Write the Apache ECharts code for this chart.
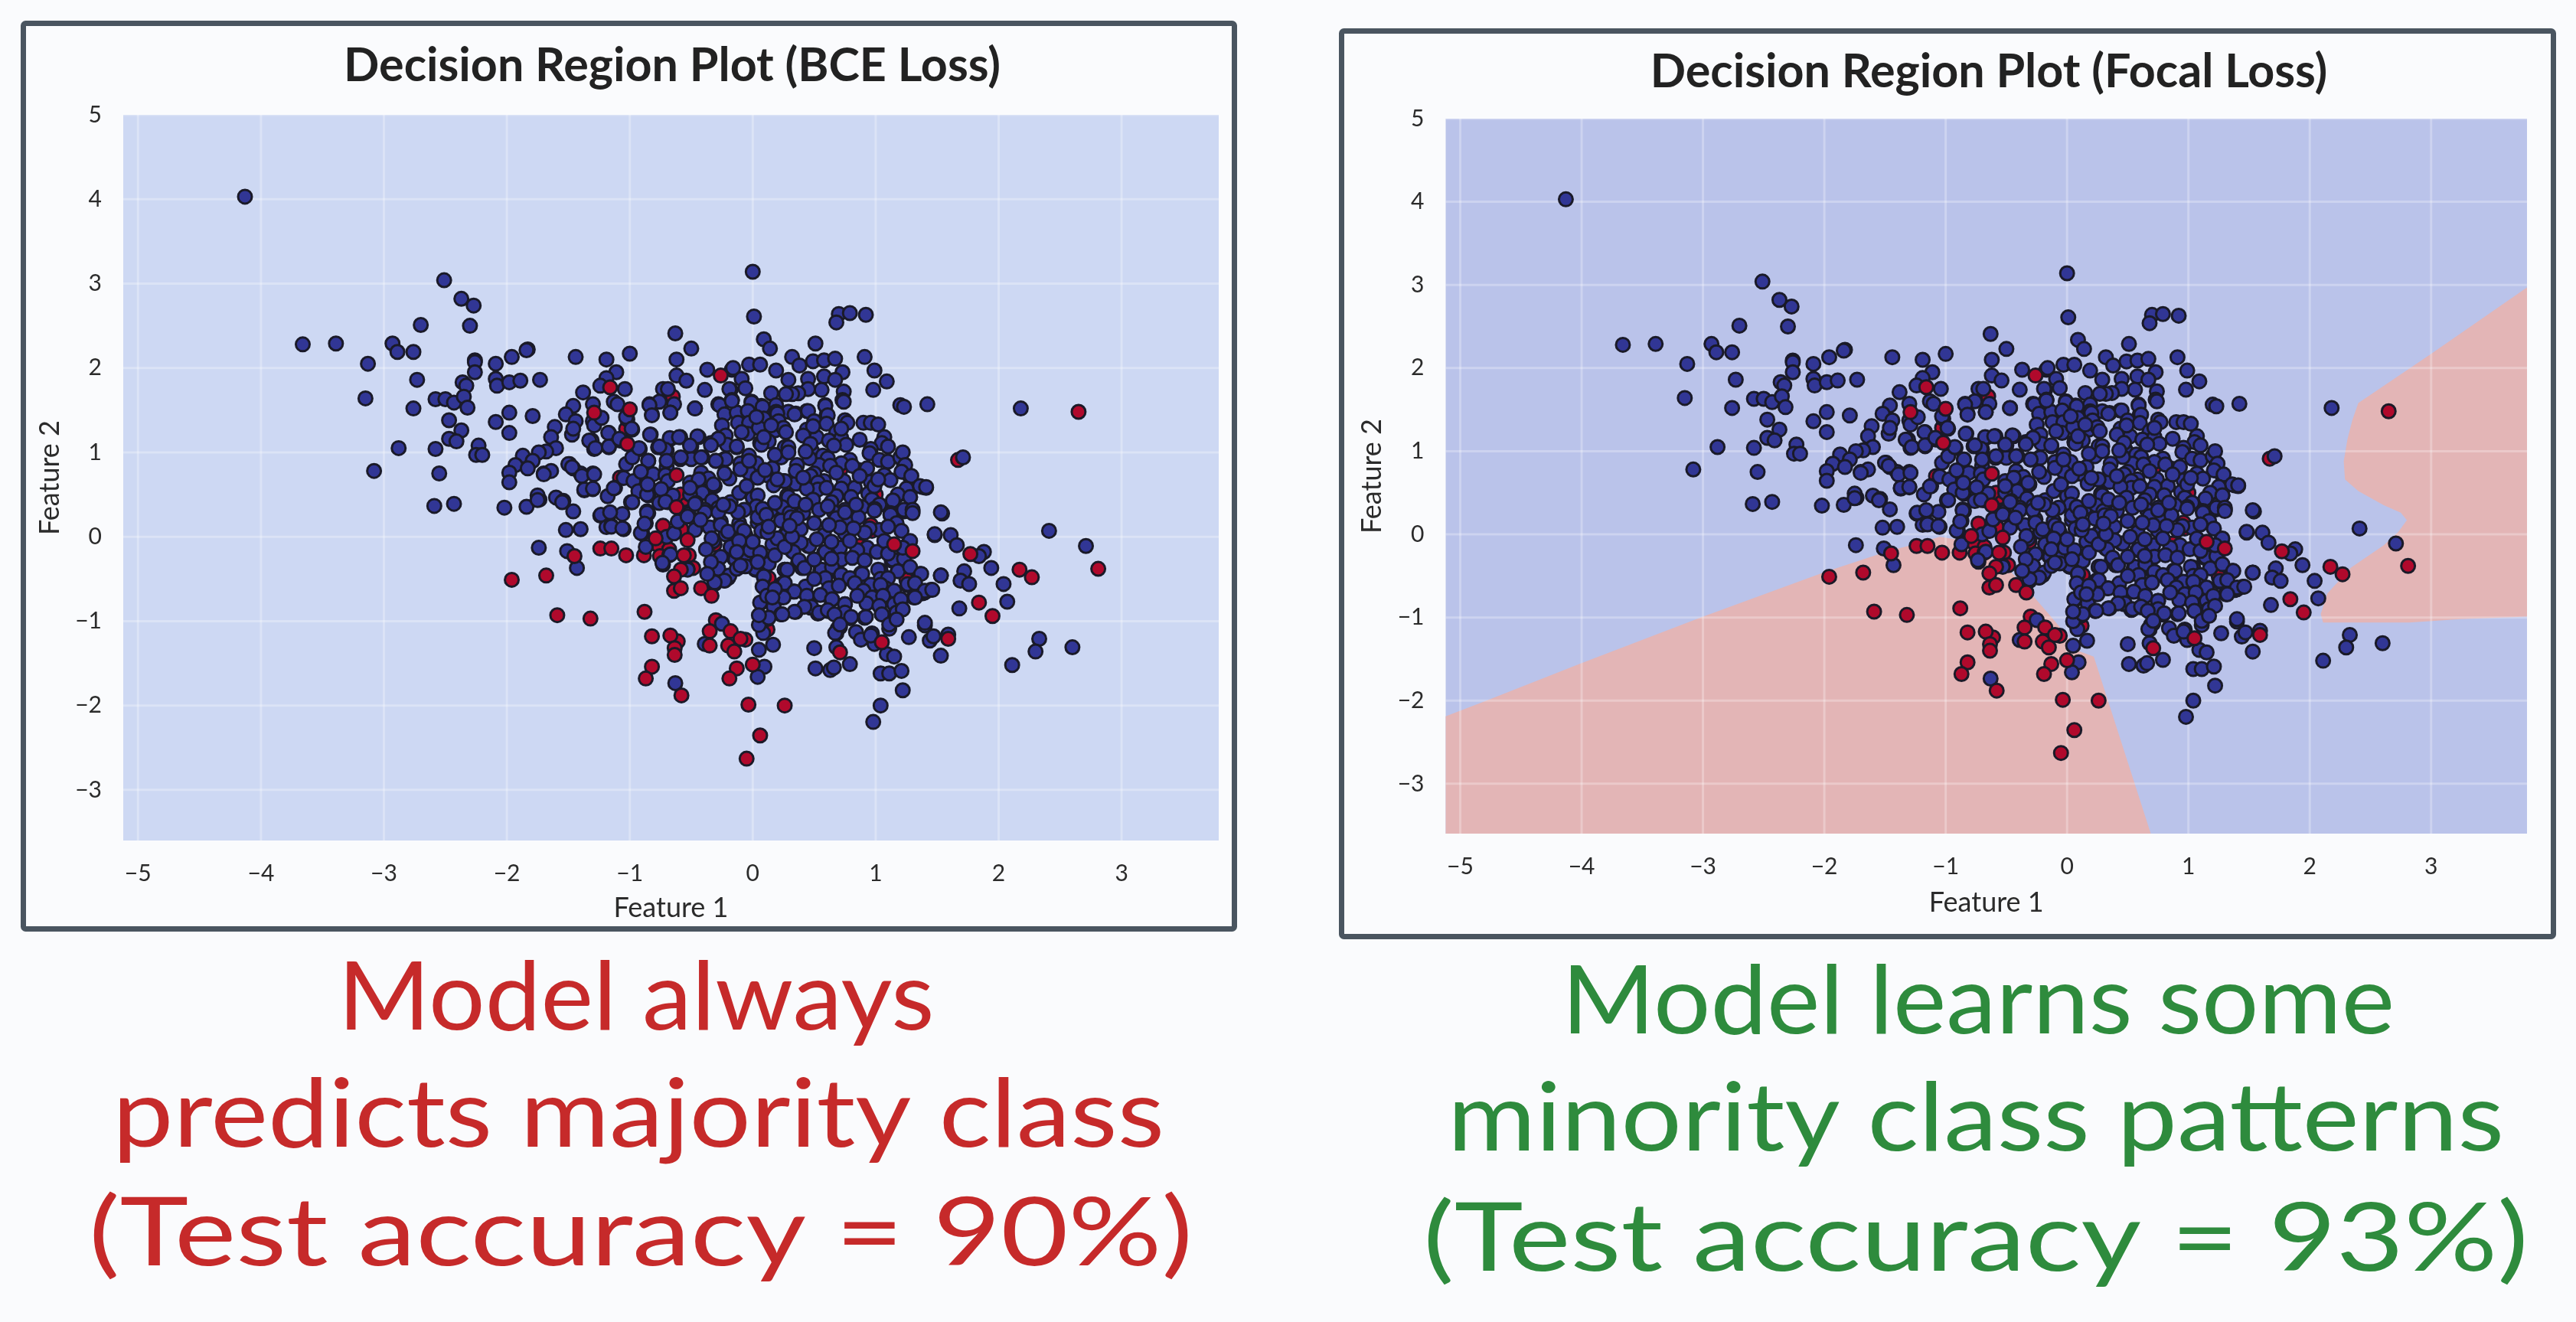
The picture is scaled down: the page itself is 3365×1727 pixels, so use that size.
<!DOCTYPE html>
<html>
<head>
<meta charset="utf-8">
<title>Decision regions: BCE vs Focal loss</title>
<script src="https://cdn.jsdelivr.net/npm/echarts@6/dist/echarts.min.js"></script>
<style>
html,body{margin:0;padding:0;background:#fafbfd;}
#chart{width:3365px;height:1727px;}
</style>
</head>
<body>
<div id="chart"></div>
<script>
// Axis bounds shared by both panels (data units)
const xBounds = [-5.12, 3.79];
const yBounds = [-3.6, 5];
const xTicks = [-5, -4, -3, -2, -1, 0, 1, 2, 3];
const yTicks = [-3, -2, -1, 0, 1, 2, 3, 4, 5];

// Panel headings, axis names and captions
const panelTitles = ['Decision Region Plot (BCE Loss)', 'Decision Region Plot (Focal Loss)'];
const xAxisName = 'Feature 1';
const yAxisName = 'Feature 2';
const bceCaption = ['Model always', 'predicts majority class', '(Test accuracy = 90%)'];
const focalCaption = ['Model learns some', 'minority class patterns', '(Test accuracy = 93%)'];

// Focal-loss decision boundary: regions predicted as the minority class
const focalLowerRegion = [[-5.12,-2.19],[-4.80,-2.01],[-4.0,-1.55],[-3.02,-1.0],[-2.0,-0.456],[-1.47,-0.20],[-1.23,-0.11],[-1.05,-0.03],[-0.87,-0.07],[-0.65,-0.255],[-0.46,-0.456],[-0.31,-0.69],[-0.145,-0.97],[0,-1.22],[0.07,-1.39],[0.22,-1.47],[0.69,-3.6],[-5.12,-3.6]];
const focalRightRegion = [[3.79,2.97],[3.0,2.17],[2.40,1.58],[2.35,1.37],[2.31,1.14],[2.28,0.88],[2.29,0.66],[2.40,0.52],[2.61,0.35],[2.75,0.26],[2.80,0.17],[2.73,0.03],[2.61,-0.13],[2.34,-0.40],[2.145,-0.71],[2.09,-0.96],[2.11,-1.06],[2.82,-1.06],[3.24,-1.02],[3.79,-0.99]];

// Minority class points lying under the majority points
const minorityUnder = [[-1.03,1.28],[-0.65,1.66],[1.67,0.91],[0.72,0.81],[1.0,0.50],[0.96,0.14],[0.97,0.07],[0.87,-0.11],[1.25,-0.51],[1.38,-0.67],[0.13,-0.49],[-0.77,-0.10],[-0.31,-0.09],[-0.68,-0.15],[-0.52,-0.22],[-0.64,-0.64],[-0.885,-0.22],[-0.755,-0.23],[-0.73,0.13],[-0.58,0.09],[-0.585,0.50],[-0.54,0.38],[-0.61,-1.24],[-0.06,-1.22],[0.12,-1.10],[-0.30,-0.99],[-0.485,-0.37],[-1.08,0.70]];

// Minority class points lying over the majority points
const minorityOver = [[-1.16,1.77],[-1.29,1.47],[-1.00,1.51],[-1.02,1.10],[-0.26,1.91],[-0.62,0.73],[-0.62,0.35],[2.65,1.48],[2.81,-0.38],[2.17,-0.39],[2.27,-0.48],[1.84,-0.78],[1.95,-0.94],[1.15,-0.09],[1.30,-0.17],[1.77,-0.205],[1.59,-1.21],[1.05,-1.25],[0.71,-1.37],[-1.96,-0.51],[-1.68,-0.46],[-1.59,-0.93],[-1.32,-0.97],[-0.88,-0.89],[-0.82,-1.18],[-0.67,-1.17],[-0.635,-1.32],[-0.635,-1.40],[-0.82,-1.54],[-0.87,-1.68],[-0.58,-1.88],[-0.35,-1.12],[-0.35,-1.29],[-0.18,-1.12],[-0.10,-1.21],[-0.20,-1.29],[-0.15,-1.36],[0,-1.515],[-0.13,-1.56],[-0.19,-1.68],[-0.035,-1.99],[0.26,-2.0],[0.06,-2.355],[-0.05,-2.63],[-1.24,-0.14],[-1.15,-0.14],[-1.03,-0.22],[-1.45,-0.23],[-0.79,-0.02],[-0.53,-0.04],[-0.56,-0.22],[-0.585,-0.39],[-0.64,-0.47],[-0.585,-0.61],[-0.42,-0.61],[-0.335,-0.70]];

// Majority class: sparse points on the upper left
const majorityUpperLeft = [[-4.13,4.03],[-3.66,2.28],[-3.39,2.29],[-2.93,2.29],[-2.89,2.19],[-2.76,2.19],[-3.13,2.05],[-3.15,1.64],[-2.73,1.86],[-2.76,1.52],[-2.70,2.51],[-2.51,3.04],[-2.37,2.82],[-2.27,2.74],[-2.30,2.50],[-2.26,2.09],[-2.26,2.07],[-2.26,1.95],[-2.36,1.83],[-2.33,1.79],[-2.58,1.63],[-2.50,1.63],[-2.43,1.59],[-2.35,1.66],[-2.32,1.53],[-2.09,2.05],[-1.96,2.13],[-1.83,2.22],[-1.84,2.21],[-2.09,1.87],[-2.08,1.79],[-1.98,1.83],[-1.89,1.85],[-1.73,1.86],[-1.44,2.13],[-1.19,2.10],[-1.00,2.17],[-1.11,1.95],[-1.19,1.88],[-1.24,1.79],[-1.04,1.75],[-1.38,1.71],[-1.46,1.55],[-1.52,1.45],[-1.30,1.57],[-1.13,1.60],[-1.10,1.57],[-1.98,1.47],[-2.09,1.36],[-1.79,1.43],[-1.98,1.23],[-2.47,1.38],[-2.37,1.26],[-2.47,1.16],[-2.41,1.13],[-2.23,1.08],[-2.25,0.97],[-2.20,0.97],[-2.88,1.05],[-2.58,1.04],[-3.08,0.78],[-2.55,0.75],[-1.61,1.30],[-1.64,1.18],[-1.60,1.05],[-1.68,1.01],[-1.74,1.00],[-1.87,0.96],[-1.79,0.90],[-1.93,0.85],[-1.83,0.81],[-1.98,0.76],[-1.70,0.75],[-1.64,0.78],[-1.49,0.86],[-1.46,0.81],[-1.40,0.75],[-1.30,0.75],[-1.44,1.37],[-1.47,1.21],[-1.46,1.28],[-1.30,1.37],[-1.29,1.32],[-1.23,1.41],[-1.31,1.14],[-1.29,1.04],[-1.17,1.23],[-1.17,1.06],[-1.08,1.14],[-0.98,1.27],[-1.02,1.39],[-0.92,1.04],[-1.33,1.14],[-1.28,1.05],[-1.03,0.86],[-1.50,0.86],[-1.47,0.825],[-1.39,0.72],[-1.29,0.74],[-1.70,0.74],[-1.37,0.55],[-1.30,0.565],[-1.12,0.58],[-1.18,0.48],[-1.60,0.465],[-1.54,0.425],[-1.46,0.30],[-1.735,0.44],[-1.05,0.695],[-2.59,0.365],[-2.43,0.39],[-2.02,0.345],[-1.84,0.355],[-1.75,0.49],[-1.75,0.435],[-1.55,0.41],[-1.52,0.08],[-1.40,0.09],[-1.74,-0.13],[-1.51,-0.17],[-1.43,-0.37],[-1.24,0.25],[-1.16,0.28],[-1.06,0.27],[-1.19,0.115],[-1.15,0.13],[-1.05,0.09],[-1.37,0.56],[-1.30,0.57],[-1.13,0.575],[-0.99,0.41],[-1.98,0.645]];

// Majority class: top and right fringe of the cloud
const majorityUpperRight = [[-0.63,2.41],[-0.50,2.23],[-0.62,2.10],[-0.62,1.91],[-0.54,1.85],[-0.37,1.98],[-0.17,1.98],[-0.09,1.87],[-0.06,1.76],[-0.18,1.74],[-0.39,1.74],[-0.73,1.75],[-0.69,1.75],[-0.64,1.57],[-0.67,1.47],[-0.84,1.57],[-0.76,1.60],[-0.82,1.45],[-0.47,1.52],[-0.27,1.56],[-0.17,1.62],[-0.13,1.47],[-0.01,1.60],[0,3.14],[0.01,2.61],[0.70,2.64],[0.79,2.65],[0.92,2.63],[0.68,2.54],[0.09,2.34],[0.14,2.23],[0.51,2.29],[0.32,2.13],[0.38,2.03],[0.49,2.08],[0.58,2.09],[0.67,2.11],[0.91,2.13],[0.19,1.97],[-0.03,2.04],[0.06,2.04],[-0.16,2.0],[-0.19,1.75],[-0.17,1.62],[0.99,1.97],[0.73,1.95],[1.09,1.84],[0.98,1.74],[0.29,1.86],[0.45,1.87],[0.58,1.90],[0.67,1.86],[0.74,1.72],[0.73,1.62],[0.56,1.74],[0.45,1.75],[0.37,1.70],[0.32,1.69],[0.27,1.69],[0.15,1.70],[-0.28,1.57],[0.07,1.55],[0.19,1.56],[0.19,1.48],[0.29,1.48],[0.35,1.46],[0.44,1.49],[0.59,1.56],[0.60,1.44],[1.20,1.56],[1.23,1.54],[1.42,1.57],[2.18,1.52],[1.71,0.94],[1.23,0.86],[1.23,0.77],[1.28,0.71],[1.38,0.59],[1.41,0.58],[1.18,0.49],[1.26,0.58],[1.28,0.47],[1.23,0.30],[1.30,0.30],[1.12,0.26],[1.54,0.275],[1.48,0.02],[1.61,0.02],[1.66,-0.10],[1.88,-0.18],[1.84,-0.23],[2.41,0.07],[2.71,-0.11],[1.94,-0.37],[2.04,-0.56],[2.07,-0.77],[1.68,-0.85],[1.72,-0.41],[1.69,-0.52],[1.76,-0.56],[1.53,-0.46],[1.36,-0.44],[1.27,-0.07],[1.40,-0.66],[1.45,-0.63],[1.31,-0.72],[1.40,-1.05],[1.27,-1.19],[1.44,-1.23],[1.47,-1.18],[1.59,-1.16],[1.53,-1.41],[2.33,-1.21],[2.30,-1.36],[2.11,-1.52],[2.60,-1.31]];

// Majority class: bottom of the cloud
const majorityLower = [[1.11,-1.09],[0.97,-1.145],[0.84,-1.13],[0.88,-1.22],[0.99,-1.27],[1.09,-1.39],[1.15,-1.42],[1.04,-1.62],[1.11,-1.62],[1.21,-1.59],[1.22,-1.82],[1.04,-2.0],[0.98,-2.195],[0.68,-1.31],[0.50,-1.32],[0.51,-1.56],[0.63,-1.58],[0.66,-1.55],[0.79,-1.51],[0.71,-1.07],[0.68,-1.145],[-0.63,-1.735],[-0.25,-1.03],[-0.39,-1.27],[0.095,-1.54],[0.04,-1.66],[0.05,-1.34],[0.165,-1.28],[0.085,-1.14],[-0.73,-0.33],[-0.68,-0.22],[-0.53,-0.38],[-0.31,-0.56],[-0.23,-0.52],[-0.29,-0.39],[-0.20,-0.49],[-0.27,-0.25],[-0.33,-0.06],[-0.18,-0.12],[-0.07,-0.24],[-0.15,-0.26],[0.04,-0.21],[0.12,-0.32],[0.02,-0.39],[0.09,-0.48],[0.09,-0.60],[0.26,-0.39],[0.24,-0.56],[0.33,-0.65],[0.43,-0.59],[0.62,-0.60],[0.55,-0.40],[0.40,-0.37],[0.37,-0.30],[0.32,-0.17],[0.45,-0.11],[0.58,-0.19],[0.71,-0.24],[0.71,-0.45],[0.80,-0.505],[0.88,-0.435],[0.45,-0.71],[0.64,-0.75],[0.07,-0.78],[0.21,-0.73],[0.23,-0.92],[0.12,-0.975],[0.05,-1.045],[0.35,-0.89],[0.47,-0.84],[0.53,-0.91],[0.61,-0.88],[0.74,-0.92],[0.75,-0.80],[0.79,-0.965],[0.91,-0.96],[1.05,-0.92],[0.93,-0.73],[0.93,-0.575],[1.04,-0.505],[1.13,-0.28],[1.21,-0.28],[1.18,-0.40],[1.04,-0.40],[1.26,-0.575],[1.20,-0.74],[1.15,-0.80],[1.165,-0.905],[0.96,-1.17],[0.69,-1.09],[0.67,-1.14]];

// Majority class: dense core, upper half
const majorityCoreUpper = [[-0.84,1.56],[-0.82,1.44],[-0.67,1.47],[-0.47,1.52],[-0.27,1.56],[-0.23,1.45],[-0.13,1.47],[-0.17,1.61],[-0.01,1.59],[-0.04,1.49],[0.08,1.54],[0.09,1.40],[0.20,1.46],[0.23,1.30],[0.21,1.37],[0.18,1.26],[-0.25,1.32],[-0.12,1.35],[-0.03,1.35],[-0.04,1.22],[0.05,1.29],[0.13,1.13],[0.06,1.11],[0.26,1.06],[0.23,0.94],[-0.83,1.21],[-0.67,1.16],[-0.59,1.18],[-0.44,1.18],[-0.77,1.06],[-0.92,1.04],[-0.70,1.02],[-0.50,1.07],[-0.34,1.11],[-0.28,1.16],[-0.22,1.20],[-0.13,1.06],[-0.21,1.09],[-0.59,0.92],[-0.41,0.94],[-0.50,0.92],[-0.30,0.90],[-0.23,0.92],[-0.85,0.90],[-0.98,0.94],[-0.70,0.82],[-0.10,0.87],[-0.03,0.96],[0.03,0.87],[0.07,1.09],[0.16,0.81],[-0.91,0.76],[-0.86,0.66],[-0.81,0.74],[-0.71,0.73],[-0.97,0.66],[-0.42,0.76],[-0.43,0.68],[-0.51,0.64],[-0.31,0.60],[-0.36,0.69],[-0.19,0.69],[-0.23,0.75],[-0.03,0.76],[0.11,0.73],[0.04,0.70],[0.25,0.66],[0.17,0.61],[-0.74,0.57],[-0.69,0.66],[-0.85,0.49],[-0.93,0.54],[-0.98,0.41],[-0.41,0.52],[-0.51,0.50],[-0.18,0.41],[-0.05,0.54],[-0.11,0.52],[0,0.46],[0.04,0.49],[0.28,0.49],[-0.69,0.41],[-0.65,0.49],[-0.76,0.40],[-0.46,0.40],[-0.33,0.43],[-0.28,0.34],[-0.39,0.32],[-0.53,0.29],[-0.86,0.30],[0.03,0.36],[0.23,0.35],[0.15,0.32],[-0.07,0.32],[0.59,1.55],[0.74,1.60],[0.61,1.44],[0.45,1.49],[0.34,1.45],[0.50,1.37],[0.60,1.34],[0.75,1.38],[0.77,1.35],[0.90,1.35],[0.96,1.35],[1.02,1.33],[0.44,1.27],[0.25,1.29],[0.68,1.24],[0.52,1.18],[0.62,1.14],[0.72,1.17],[0.76,1.09],[0.87,1.15],[1.07,1.18],[1.05,1.11],[1.10,1.07],[0.96,1.04],[0.95,0.99],[0.29,1.06],[0.48,1.02],[0.57,0.96],[0.61,0.93],[1.03,0.91],[1.10,0.89],[1.20,0.94],[1.22,1.0],[1.24,0.85],[1.21,0.77],[1.29,0.72],[0.79,0.91],[0.72,0.87],[0.54,0.85],[0.36,0.85],[0.46,0.93],[0.86,0.79],[0.93,0.81],[1.07,0.73],[1.12,0.67],[0.50,0.75],[0.47,0.72],[0.74,0.66],[0.58,0.66],[0.53,0.64],[0.35,0.63],[0.26,0.66],[0.96,0.65],[1.36,0.60],[1.41,0.59],[1.25,0.57],[1.18,0.50],[1.28,0.47],[1.14,0.43],[0.83,0.58],[0.94,0.51],[0.72,0.57],[0.53,0.56],[0.44,0.57],[0.29,0.47],[0.49,0.44],[0.68,0.48],[0.80,0.47],[0.97,0.44],[1.03,0.38],[0.64,0.41],[0.24,0.35],[0.75,0.32],[0.99,0.33],[1.23,0.32],[1.30,0.32],[1.12,0.28],[0.41,0.29],[0.54,0.32],[0.30,0.28],[1.53,0.29],[0.89,0.35],[0.66,0.29]];

// Majority class: dense core, lower half
const majorityCoreLower = [[-0.85,0.28],[-0.87,0.16],[-0.90,0.04],[-0.87,-0.12],[-0.70,0],[-0.64,0.04],[-0.61,0.18],[-0.52,0.27],[-0.42,0.15],[-0.47,0.08],[-0.35,0.11],[-0.26,0.18],[-0.22,0.03],[-0.32,-0.05],[-0.11,0.16],[0.04,0.17],[-0.06,0.02],[-0.18,-0.12],[-0.26,-0.24],[-0.14,-0.27],[-0.07,-0.24],[-0.02,-0.16],[0.06,-0.19],[0.16,-0.09],[0.23,0.19],[0.13,-0.32],[0.27,0.04],[0.07,0.07],[0.02,-0.38],[0.09,-0.47],[0.26,-0.39],[-0.28,-0.38],[-0.19,-0.46],[-0.23,-0.52],[-0.31,-0.54],[0.25,-0.55],[0.08,-0.59],[0.22,-0.72],[0.06,-0.78],[0.115,-0.70],[0.17,-0.83],[0.23,-0.92],[0.13,-0.96],[0.05,-0.93],[-0.67,-0.21],[-0.735,-0.31],[-0.53,-0.39],[-0.39,0.29],[-0.28,0.29],[-0.12,0.29],[0.41,0.28],[0.31,0.23],[0.50,0.16],[0.39,0.09],[0.28,0.03],[0.68,0.22],[0.78,0.16],[0.86,0.23],[0.75,0.29],[0.99,0.31],[1.12,0.26],[1.30,0.28],[1.17,0.16],[1.21,0.07],[1.03,0.08],[0.95,0.10],[0.91,0.05],[0.58,0.02],[0.75,0.04],[0.46,-0.11],[0.39,-0.07],[0.33,-0.18],[0.375,-0.28],[0.59,-0.18],[0.71,-0.13],[0.93,-0.13],[0.85,-0.16],[1.01,-0.18],[1.07,-0.05],[1.28,-0.05],[1.48,0.03],[0.72,-0.27],[0.81,-0.25],[0.91,-0.28],[1.14,-0.27],[1.23,-0.26],[0.28,-0.39],[0.42,-0.37],[0.56,-0.39],[0.645,-0.36],[1.02,-0.39],[1.18,-0.41],[1.28,-0.36],[1.37,-0.44],[0.72,-0.45],[0.79,-0.49],[0.89,-0.44],[0.83,-0.55],[1.04,-0.50],[0.59,-0.49],[1.10,-0.49],[1.53,-0.46],[0.26,-0.55],[0.34,-0.65],[0.44,-0.70],[0.62,-0.61],[1.26,-0.56],[1.32,-0.55],[0.96,-0.57],[1.08,-0.61],[1.15,-0.64],[1.04,-0.57],[1.40,-0.64],[1.46,-0.63],[0.25,-0.72],[0.55,-0.69],[0.645,-0.74],[0.90,-0.64],[0.97,-0.72],[1.06,-0.70],[1.205,-0.74],[1.32,-0.72],[0.925,-0.79],[0.75,-0.80],[0.475,-0.83],[0.42,-0.83],[0.34,-0.89],[0.24,-0.92],[0.54,-0.90],[0.61,-0.87],[1.03,-0.82],[0.75,-0.90],[0.80,-0.95],[0.92,-0.95],[1.05,-0.92],[1.17,-0.90],[1.22,-0.86],[0.665,-0.92],[0.71,-1.04],[1.40,-1.02],[1.11,-1.04],[1.17,-0.98]];

// Majority class: further points filling the crowded middle of the cloud
const majorityCoreExtra = [[-1.03,1.42],[-0.985,1.28],[-0.835,1.21],[-0.675,1.17],[-0.6,1.18],[-0.45,1.19],[-0.51,1.08],[-0.71,1.03],[-0.76,1.07],[-0.585,0.94],[-0.70,0.90],[-0.42,0.94],[-0.28,1.16],[-0.34,1.085],[-0.13,1.07],[-0.22,0.92],[-0.30,0.90],[-1.175,1.23],[-1.17,1.07],[-1.085,1.16],[-0.925,1.05],[-0.85,0.90],[-0.91,0.77],[-0.86,0.50],[-0.855,0.62],[-0.745,0.565],[-0.71,0.415],[-0.86,0.285],[-1.235,0.26],[-1.16,0.29],[-1.15,0.12],[-1.06,0.10],[-0.91,0.045],[-0.88,0.155],[-0.44,0.68],[-0.32,0.62],[-0.51,0.58],[-0.47,0.39],[-0.53,0.24],[-0.425,0.20],[-0.335,-0.02],[-0.26,0.14],[-0.20,0.06],[-0.10,0.11],[0.04,0.23],[-0.07,0.07],[-0.19,0.36],[-0.24,0.38],[0.08,0.33],[-0.05,0.60],[-0.10,0.80],[-0.03,0.90],[0.10,0.79],[0.20,0.68],[0.35,0.78],[0.29,1.0],[0.18,0.97],[0.09,1.18],[-0.09,1.24],[0.15,1.32],[0.27,1.24],[0.03,1.42],[0.49,1.31],[0.41,1.20],[0.47,1.10],[0.66,1.08],[0.72,1.28],[0.43,1.01],[0.63,0.84],[0.68,0.76],[0.81,0.84],[0.87,0.72],[0.41,0.70],[0.34,0.42],[0.18,0.40],[0.11,0.26],[0.36,0.22],[0.43,0.38],[0.60,0.58],[0.61,0.36],[0.84,0.38],[0.71,0.11],[0.82,0.10],[0.62,0.14],[0.99,0.60],[1.02,0.68],[0.20,-0.02],[0.12,0.05],[0.00,-0.06],[-0.11,-0.05],[-0.13,-0.18],[-0.38,-0.15],[-0.34,-0.30],[-0.37,-0.44],[-0.13,-0.38],[-0.06,-0.35],[0.04,-0.30],[0.18,-0.22],[0.26,-0.12],[0.32,0.00],[0.52,-0.03],[0.64,-0.06],[0.79,-0.05],[0.50,-0.27],[0.64,-0.26],[0.50,-0.50],[0.70,-0.58],[0.85,-0.70],[1.10,-0.20],[1.22,-0.13],[1.10,0.12],[0.18,-0.62],[0.16,-0.72],[-0.10,-0.34],[0.13,0.12],[0.30,0.13]];

const majorityPoints = [].concat(majorityUpperLeft, majorityUpperRight, majorityLower, majorityCoreUpper, majorityCoreLower, majorityCoreExtra);

// Pixel layout of the two framed panels
const panels = [
  {frame:[30.5,30.5,1582,1183], grid:{left:161,top:150,width:1431,height:948}, titleX:878, titleY:56, nameGapX:70, nameGapY:78, plane:'#cdd8f3', regions:[]},
  {frame:[1752.5,40.5,1583,1183], grid:{left:1888.5,top:155,width:1412.5,height:934}, titleX:2598, titleY:64, nameGapX:72, nameGapY:78, plane:'#bac3ea', regions:[focalLowerRegion, focalRightRegion]}
];

const ink = '#2b2b2b';
const labelFont = 'Lato';
const tickText = v => String(v).replace('-', '\u2212');

const baseAxis = (name, bounds, ticks, gap, extra) => Object.assign({
  type:'value', min:bounds[0], max:bounds[1],
  name:name, nameLocation:'middle', nameGap:gap,
  nameTextStyle:{fontFamily:labelFont, fontSize:36, color:ink},
  axisLine:{show:false}, axisTick:{show:false}, splitLine:{show:false},
  axisLabel:{fontFamily:labelFont, fontSize:30, color:ink, margin:28, formatter:tickText, customValues:ticks}
}, extra);

// Filled plane + predicted-minority polygons, placed under the grid lines
const regionSeries = (panel, idx) => {
  const plane = [[xBounds[0],yBounds[0]],[xBounds[1],yBounds[0]],[xBounds[1],yBounds[1]],[xBounds[0],yBounds[1]]];
  const shapes = [plane].concat(panel.regions);
  return {
    type:'custom', xAxisIndex:idx, yAxisIndex:idx, z:0, silent:true, clip:false,
    data:shapes.map(s => s[0]),
    renderItem:(params, api) => ({
      type:'polygon',
      shape:{points:shapes[params.dataIndex].map(p => api.coord(p))},
      style:{fill: params.dataIndex === 0 ? panel.plane : '#e3b5b6'}
    })
  };
};

// Grid lines at the integer tick values, above the regions and below the dots
const gridLineSeries = idx => {
  const segments = xTicks.map(v => [[v,yBounds[0]],[v,yBounds[1]]]).concat(yTicks.map(v => [[xBounds[0],v],[xBounds[1],v]]));
  return {
    type:'custom', xAxisIndex:idx, yAxisIndex:idx, z:1, silent:true, clip:false,
    data:segments.map(s => s[0]),
    renderItem:(params, api) => {
      const a = api.coord(segments[params.dataIndex][0]);
      const b = api.coord(segments[params.dataIndex][1]);
      return {type:'line', shape:{x1:a[0], y1:a[1], x2:b[0], y2:b[1]},
        style:{stroke:'rgba(255,255,255,0.28)', lineWidth:3}};
    }
  };
};

const dotSeries = (points, color, idx, z) => ({
  type:'scatter', xAxisIndex:idx, yAxisIndex:idx, z:z, data:points, symbolSize:18, silent:true, large:false,
  itemStyle:{color:color, borderColor:'#1a1a28', borderWidth:3, opacity:1}
});

// Stretch each caption line to its drawn width
const measure = document.createElement('canvas').getContext('2d');
const captionSize = 125;
const captionFont = '400 ' + captionSize + 'px Lato';
measure.font = captionFont;
const captionLine = (text, cx, baseline, width, color) => {
  const natural = measure.measureText(text).width;
  return {type:'text', x:cx, y:baseline - captionSize * 0.8, scaleX:width/natural, silent:true,
    style:{text:text, font:captionFont, fill:color, align:'center', verticalAlign:'top'}};
};

const graphics = [
  ...panels.map(p => ({type:'rect', shape:{x:p.frame[0], y:p.frame[1], width:p.frame[2], height:p.frame[3], r:3}, silent:true, style:{fill:'none', stroke:'#4a5560', lineWidth:7}})),
  captionLine(bceCaption[0], 831, 1342, 779, '#c62a2a'),
  captionLine(bceCaption[1], 834, 1495, 1374, '#c62a2a'),
  captionLine(bceCaption[2], 837, 1650, 1442, '#c62a2a'),
  captionLine(focalCaption[0], 2584, 1347, 1088, '#2e8b3d'),
  captionLine(focalCaption[1], 2581, 1500, 1380, '#2e8b3d'),
  captionLine(focalCaption[2], 2581, 1657, 1444, '#2e8b3d')
];

const chart = echarts.init(document.getElementById('chart'), null, {renderer:'canvas'});
chart.setOption({
  animation:false,
  backgroundColor:'#fafbfd',
  title:panels.map((p,i) => ({text:panelTitles[i], left:p.titleX, top:p.titleY, textAlign:'center', padding:0,
    textStyle:{fontFamily:labelFont, fontWeight:'bold', fontSize:61, color:'#222'}})),
  grid:panels.map(p => p.grid),
  xAxis:panels.map((p,i) => baseAxis(xAxisName, xBounds, xTicks, p.nameGapX, {gridIndex:i})),
  yAxis:panels.map((p,i) => baseAxis(yAxisName, yBounds, yTicks, p.nameGapY, {gridIndex:i})),
  graphic:{elements:graphics},
  series:panels.flatMap((p,i) => [
    regionSeries(p,i),
    gridLineSeries(i),
    dotSeries(minorityUnder,'#b0092c',i,2),
    dotSeries(majorityPoints,'#313695',i,3),
    dotSeries(minorityOver,'#b0092c',i,4)
  ])
});
</script>
</body>
</html>
